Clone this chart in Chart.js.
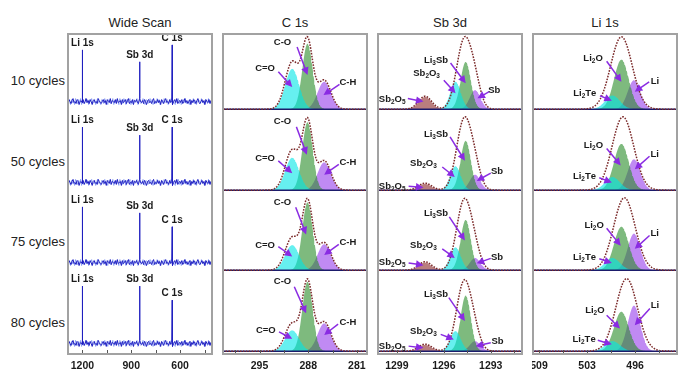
<!DOCTYPE html>
<html>
<head>
<meta charset="utf-8">
<script src="https://cdn.jsdelivr.net/npm/chart.js@4.4.1/dist/chart.umd.min.js"></script>
<style>
  body { margin: 0; background: #fff; width: 686px; height: 386px; position: relative; overflow: hidden;
         font-family: "Liberation Sans", Arial, sans-serif; color: #222; }
  .t { position: absolute; font-size: 13px; line-height: 16px; white-space: nowrap; }
  canvas { position: absolute; }
</style>
</head>
<body>
<script>
const rowLabels = ['10 cycles', '50 cycles', '75 cycles', '80 cycles'];
const panelTitles = ['Wide Scan', 'C 1s', 'Sb 3d', 'Li 1s'];

// wide scan: spikes on a noisy baseline
const widePeakNames = ['Li 1s', 'Sb 3d', 'C 1s'];
const widePeakEnergies = [1200, 848, 649];
const widePeakHeights = [[52, 40, 57], [55, 47, 55], [56, 50, 36], [57, 57, 43]];
const wideNoise = [
  1,-1,2,0,-2,1,3,-1,0,-2,2,1,-3,0,1,-1,2,-2,0,3,
  -1,1,-2,2,0,-3,1,2,-1,0,-2,3,1,-1,-2,0,2,-1,1,-3,
  2,0,-1,3,-2,1,0,-1,2,-2,3,-1,0,1,-3,2,-1,0,2,-2,
  1,3,-2,0,-1,2,-3,1,0,2,-1,-2,3,0,-1,1,-2,2,0,-3,
  1,2,-1,0,-2,1,3,-2,0,-1,2,-1,1,-3,2,0,-2,1,3,-1,
  0,-2,2,-1,1,-3,0,2,-1,3,-2,0,1,-1,2,-2,0,3,-1,1,
  -2,0,2,-3,1,-1,2,0,-2,1,3,-1,-2,0,2,-1,1,-3,2,0,
  -1,2,-2,1,0,3];
// lighter scatter around the same baseline
const wideNoiseLight = [
  -2,3,0,-3,2,-1,1,-3,3,0,-2,2,-1,3,-3,1,0,-2,3,-1,
  2,-3,1,0,3,-2,-1,2,-3,1,3,-1,0,-3,2,1,-2,3,-1,0,
  -3,2,1,-2,0,3,-3,1,-1,2,0,-3,3,-1,1,-2,3,0,-3,2,
  -1,0,3,-3,1,-2,2,0,-1,3,-3,1,2,-2,0,3,-1,-3,2,1,
  -2,0,3,-1,2,-3,0,1,-2,3,-1,2,-3,0,1,-2,3,-1,0,2,
  -3,1,0,3,-2,1,-1,-3,2,0,3,-2,1,-3,0,2,-1,3,-2,0,
  1,-3,2,0,-1,3,-2,1,-3,0,2,1,-2,3,-1,0,-3,2,1,-2,
  3,-1,0,-3,2,-1];
const wideTicks = [1200, 900, 600];
const wideTickLabels = ['1200', '900', '600'];
const wideMinorTicks = [1050, 750, 450];

// C 1s fit components (centre eV, sigma eV, height per row)
const c1sNames = ['C=O', 'C-O', 'C-H'];
const c1sCenters = [290.3, 288.1, 285.7];
const c1sWidths = [1.0, 0.75, 0.95];
const c1sHeights = [[53, 86, 36], [42, 88, 36], [33, 89, 34], [27, 90, 36]];
const c1sEnvHeights = [[62, 88, 38], [52, 88, 38], [43, 89, 36], [36, 89, 38]];
const c1sTicks = [295, 288, 281];
const c1sTickLabels = ['295', '288', '281'];
const c1sMinorTicks = [298.5, 291.5, 284.5];

// Sb 3d
const sbNames = ['Sb₂O₅', 'Sb₂O₃', 'Li₃Sb', 'Sb'];
const sbCenters = [1297.2, 1295.25, 1294.6, 1294.0];
const sbWidths = [0.4, 0.34, 0.33, 0.34];
const sbHeights = [[16, 36, 62, 25], [8, 31, 64, 20], [10, 30, 66, 16], [8, 26, 72, 13]];
const sbEnvCenters = [1297.2, 1294.7, 1294.0];
const sbEnvWidths = [0.42, 0.48, 0.37];
const sbEnvHeights = [[17, 90, 27], [9, 91, 22], [11, 91, 18], [9, 90, 15]];
const sbTicks = [1299, 1296, 1293];
const sbTickLabels = ['1299', '1296', '1293'];
const sbMinorTicks = [1297.5, 1294.5, 1291.5];

// Li 1s
const liNames = ['Li₂Te', 'Li₂O', 'Li'];
const liCenters = [499.3, 498.1, 496.4];
const liWidths = [1.0, 1.0, 0.85];
const liHeights = [[18, 65, 38], [17, 60, 40], [16, 57, 48], [13, 51, 59]];
const liEnvCenters = [498.1, 497.9, 497.7, 497.4];
const liEnvWidth = 1.45;
const liEnvHeights = [95, 95, 95, 94];
const liTicks = [509.25, 502.75, 496.25];
const liTickLabels = ['509', '503', '496'];
const liMinorTicks = [506, 499.5, 493];

// label text, label x/y, arrow start x/y, arrow end x/y (data units)
const c1sNotes = [
  [['C-O', 291.7, 88, 289.6, 81.5, 288.1, 45], ['C=O', 294.2, 53, 292.3, 49, 290.3, 29], ['C-H', 282.3, 35, 283.5, 32.5, 285.8, 18.5]],
  [['C-O', 291.7, 89, 289.7, 82, 288.2, 46], ['C=O', 294.2, 41, 292.3, 38, 290.3, 22], ['C-H', 282.3, 36, 283.6, 33.5, 285.7, 20]],
  [['C-O', 291.7, 89, 289.8, 82.5, 288.3, 47], ['C=O', 294.2, 33, 292.3, 31, 290.3, 18], ['C-H', 282.3, 36, 283.6, 34, 285.7, 20]],
  [['C-O', 291.7, 90, 290.0, 83.5, 288.3, 49], ['C=O', 294.1, 27, 292.2, 25, 290.3, 16], ['C-H', 282.3, 36.8, 283.7, 35, 285.7, 21]]
];
const sbNotes = [
  [['Li₃Sb', 1296.5, 64, 1295.57, 60.6, 1294.6, 34], ['Sb₂O₃', 1297.1, 47, 1296.0, 38, 1295.25, 21],
   ['Sb₂O₅', 1299.3, 13.4, 1298.3, 14, 1297.3, 10], ['Sb', 1292.78, 24.2, 1293.1, 23, 1293.85, 14.3]],
  [['Li₃Sb', 1296.5, 72.5, 1295.6, 69, 1294.65, 38], ['Sb₂O₃', 1297.3, 35, 1296.1, 30, 1295.3, 17],
   ['Sb₂O₅', 1299.3, 5, 1298.25, 5, 1297.3, 3.5], ['Sb', 1292.6, 24, 1293.0, 22, 1293.9, 12]],
  [['Li₃Sb', 1296.5, 74, 1295.65, 70, 1294.65, 39], ['Sb₂O₃', 1297.3, 33, 1296.1, 28, 1295.3, 16],
   ['Sb₂O₅', 1299.3, 10, 1298.25, 9.5, 1297.3, 6.5], ['Sb', 1292.6, 17, 1293.0, 15.5, 1293.9, 9]],
  [['Li₃Sb', 1296.5, 73.8, 1295.68, 69.3, 1294.65, 39], ['Sb₂O₃', 1297.3, 26, 1296.2, 21.7, 1295.36, 15.2],
   ['Sb₂O₅', 1299.3, 6.5, 1298.25, 6.5, 1297.3, 4.3], ['Sb', 1292.57, 12.1, 1293.0, 10.8, 1293.96, 6.5]]
];
const liNotes = [
  [['Li₂O', 501.94, 67, 500.1, 63, 498.1, 36], ['Li₂Te', 503.06, 21, 501.0, 17.7, 499.4, 11.2], ['Li', 493.58, 37, 494.35, 36, 496.3, 23]],
  [['Li₂O', 501.9, 58, 500.1, 54, 498.2, 32], ['Li₂Te', 503.1, 18, 501.1, 16, 499.4, 10], ['Li', 493.6, 46.5, 494.3, 44, 496.3, 27]],
  [['Li₂O', 501.8, 59, 500.1, 55, 498.2, 32], ['Li₂Te', 503.1, 17, 501.1, 15, 499.4, 9.5], ['Li', 493.6, 48, 494.3, 45.5, 496.3, 28]],
  [['Li₂O', 501.7, 53, 500.1, 46.6, 498.3, 29.3], ['Li₂Te', 503.15, 15, 501.3, 14, 499.4, 8.8], ['Li', 493.58, 59.6, 494.25, 55.3, 496.3, 33.6]]
];

const FONT = '"Liberation Sans", Arial, sans-serif';
const colLeft = [67, 222, 377, 532];
const colWidth = 146;
const rowTop = [33, 113, 194, 274];
const rowHeight = [80, 81, 80, 81];
const axisH = 20;

const cyan = 'rgba(0,230,230,0.6)';
const green = 'rgba(40,140,40,0.6)';
const purple = 'rgba(150,60,235,0.6)';
const brown = 'rgba(140,40,40,0.6)';

// html titles
panelTitles.forEach((t, i) => {
  const d = document.createElement('div');
  d.className = 't';
  d.textContent = t;
  d.style.left = (colLeft[i] + colWidth / 2 - 60) + 'px';
  d.style.width = '120px';
  d.style.textAlign = 'center';
  d.style.top = '15px';
  document.body.appendChild(d);
});
rowLabels.forEach((t, i) => {
  const d = document.createElement('div');
  d.className = 't';
  d.textContent = t;
  d.style.left = '0px';
  d.style.width = '65px';
  d.style.textAlign = 'right';
  d.style.top = (73 + i * 80.5) + 'px';
  document.body.appendChild(d);
});

function gauss(x, c, s, h) {
  return h * Math.exp(-((x - c) * (x - c)) / (2 * s * s));
}
function grid(min, max, n) {
  const xs = [];
  for (let i = 0; i < n; i++) xs.push(min + (max - min) * i / (n - 1));
  return xs;
}
function curve(xs, centers, widths, heights) {
  return xs.map(x => ({ x, y: centers.reduce((s, c, k) => s + gauss(x, c, widths[k], heights[k]), 0) }));
}
function component(xs, c, s, h, color, order) {
  return { data: xs.map(x => ({ x, y: gauss(x, c, s, h) })), backgroundColor: color, fill: 'origin',
           borderColor: 'rgba(0,0,0,0)', borderWidth: 0, order };
}
function envelope(points) {
  return { data: points, borderColor: '#7b2a2a', borderWidth: 1.5, borderDash: [1.6, 1.3], fill: false, order: 0 };
}
function baseline(min, max) {
  return { data: [{ x: min, y: 0 }, { x: max, y: 0 }], borderColor: '#1b1b6b', borderWidth: 1.5, fill: false, order: 1 };
}

function drawRich(ctx, text, cx, cy, size) {
  const subs = '₀₁₂₃₄₅₆₇₈₉';
  const parts = [...text].map(ch => {
    const k = subs.indexOf(ch);
    return k >= 0 ? { t: String(k), sub: true } : { t: ch, sub: false };
  });
  const fnt = p => 'bold ' + (p.sub ? size * 0.68 : size) + 'px ' + FONT;
  let w = 0;
  parts.forEach(p => {
    ctx.font = fnt(p);
    p.w = ctx.measureText(p.t).width;
    w += p.w;
  });
  let x = cx - w / 2;
  ctx.textBaseline = 'middle';
  ctx.textAlign = 'left';
  parts.forEach(p => {
    ctx.font = fnt(p);
    ctx.fillText(p.t, x, cy + (p.sub ? size * 0.3 : 0));
    x += p.w;
  });
}

function drawArrow(ctx, x0, y0, x1, y1) {
  const a = Math.atan2(y1 - y0, x1 - x0);
  const len = 7.5, hw = 3.8;
  ctx.strokeStyle = '#8a2be2';
  ctx.fillStyle = '#8a2be2';
  ctx.lineWidth = 1.5;
  ctx.beginPath();
  ctx.moveTo(x0, y0);
  ctx.lineTo(x1 - Math.cos(a) * len * 0.8, y1 - Math.sin(a) * len * 0.8);
  ctx.stroke();
  ctx.beginPath();
  ctx.moveTo(x1, y1);
  ctx.lineTo(x1 - Math.cos(a) * len - Math.sin(a) * hw, y1 - Math.sin(a) * len + Math.cos(a) * hw);
  ctx.lineTo(x1 - Math.cos(a) * len + Math.sin(a) * hw, y1 - Math.sin(a) * len - Math.cos(a) * hw);
  ctx.closePath();
  ctx.fill();
}

const panelPlugin = {
  id: 'panel',
  afterDraw(chart) {
    const o = chart.options.plugins.panel;
    const { ctx, chartArea: a } = chart;
    const xs = chart.scales.x, ys = chart.scales.y;
    ctx.save();
    // annotations
    (o.notes || []).forEach(n => {
      drawArrow(ctx, xs.getPixelForValue(n[3]), ys.getPixelForValue(n[4]), xs.getPixelForValue(n[5]), ys.getPixelForValue(n[6]));
      ctx.fillStyle = '#1a1a1a';
      drawRich(ctx, n[0], xs.getPixelForValue(n[1]), ys.getPixelForValue(n[2]), 9.5);
    });
    (o.spikes || []).forEach(s => {
      ctx.fillStyle = '#1a1a1a';
      ctx.font = 'bold 10px ' + FONT;
      ctx.textAlign = 'center';
      ctx.textBaseline = 'alphabetic';
      ctx.fillText(s.name, xs.getPixelForValue(s.x), ys.getPixelForValue(s.h) - 4);
    });
    // frame
    ctx.strokeStyle = '#a2a2a2';
    ctx.lineWidth = 2;
    ctx.beginPath();
    ctx.moveTo(a.left + 1, a.top); ctx.lineTo(a.left + 1, a.bottom);
    ctx.moveTo(a.right - 1, a.top); ctx.lineTo(a.right - 1, a.bottom);
    if (o.row === 0) { ctx.moveTo(a.left, a.top + 1); ctx.lineTo(a.right, a.top + 1); }
    if (o.row === 3) { ctx.moveTo(a.left, a.bottom - 1); ctx.lineTo(a.right, a.bottom - 1); }
    ctx.stroke();
    if (o.row === 3) {
      ctx.strokeStyle = '#555';
      ctx.lineWidth = 1;
      ctx.beginPath();
      xs.ticks.forEach(t => {
        const px = Math.round(xs.getPixelForValue(t.value)) + 0.5;
        ctx.moveTo(px, a.bottom - 2);
        ctx.lineTo(px, a.bottom - 5);
      });
      ctx.stroke();
    }
    ctx.restore();
  }
};

function makeChart(col, row, datasets, xr, yr, majors, labels, minors, extra) {
  const bottom = row === 3;
  const c = document.createElement('canvas');
  c.width = colWidth;
  c.height = rowHeight[row] + (bottom ? axisH : 0);
  c.style.left = colLeft[col] + 'px';
  c.style.top = rowTop[row] + 'px';
  document.body.appendChild(c);
  new Chart(c, {
    type: 'line',
    data: { datasets },
    options: {
      responsive: false, maintainAspectRatio: false, animation: false, devicePixelRatio: 1, events: [],
      layout: { padding: 0 },
      elements: { point: { radius: 0 }, line: { tension: 0 } },
      plugins: { legend: { display: false }, tooltip: { enabled: false },
                 panel: Object.assign({ row }, extra) },
      scales: {
        x: {
          type: 'linear', reverse: true, min: xr[0], max: xr[1], display: bottom,
          grid: { display: false, drawTicks: false }, border: { display: false },
          afterBuildTicks: s => { s.ticks = majors.concat(minors).map(v => ({ value: v })); },
          afterFit: s => {
            s.height = bottom ? axisH : 0;
            s.paddingLeft = 0; s.paddingRight = 0;
          },
          ticks: {
            autoSkip: false, maxRotation: 0, minRotation: 0, padding: 5, color: '#1a1a1a',
            font: { family: FONT, size: 10.5, weight: 'bold' },
            callback: v => { const k = majors.indexOf(v); return k >= 0 ? labels[k] : ''; }
          }
        },
        y: { type: 'linear', min: yr[0], max: yr[1], display: false }
      }
    },
    plugins: [panelPlugin]
  });
}

for (let r = 0; r < 4; r++) {
  // wide scan
  const wr = [398, 1295];
  const n = wideNoise.length;
  const at = i => wr[1] - (wr[1] - wr[0]) * i / (n - 1);
  const pts = wideNoise.map((v, i) => ({ x: at(i), y: v }));
  const light = wideNoiseLight.map((v, i) => ({ x: at(i + 0.5), y: v }));
  const near = e => wideNoise[Math.round((wr[1] - e) / (wr[1] - wr[0]) * (n - 1))];
  widePeakEnergies.forEach((e, k) => {
    pts.push({ x: e + 0.9, y: near(e) }, { x: e, y: widePeakHeights[r][k] }, { x: e - 0.9, y: near(e) });
  });
  pts.sort((p, q) => q.x - p.x);
  makeChart(0, r, [
    { data: pts, borderColor: '#2020c0', borderWidth: 1, fill: false, order: 0 },
    { data: light, borderColor: 'rgba(80,110,240,0.55)', borderWidth: 1, fill: false, order: 1 }
  ], wr, [-11.5, 69], wideTicks, wideTickLabels, wideMinorTicks,
    { spikes: widePeakEnergies.map((e, k) => ({ name: widePeakNames[k], x: e, h: widePeakHeights[r][k] })) });

  // C 1s
  const cr = [279.4, 300.4];
  const cx = grid(cr[0], cr[1], 240);
  makeChart(1, r, [
    envelope(curve(cx, c1sCenters, c1sWidths, c1sEnvHeights[r])),
    baseline(cr[0], cr[1]),
    component(cx, c1sCenters[0], c1sWidths[0], c1sHeights[r][0], cyan, 3),
    component(cx, c1sCenters[1], c1sWidths[1], c1sHeights[r][1], green, 4),
    component(cx, c1sCenters[2], c1sWidths[2], c1sHeights[r][2], purple, 5)
  ], cr, [-5, 100], c1sTicks, c1sTickLabels, c1sMinorTicks, { notes: c1sNotes[r] });

  // Sb 3d
  const sr = [1290.94, 1300.27];
  const sx = grid(sr[0], sr[1], 300);
  makeChart(2, r, [
    envelope(curve(sx, sbEnvCenters, sbEnvWidths, sbEnvHeights[r])),
    baseline(sr[0], sr[1]),
    component(sx, sbCenters[0], sbWidths[0], sbHeights[r][0], brown, 3),
    component(sx, sbCenters[1], sbWidths[1], sbHeights[r][1], cyan, 3),
    component(sx, sbCenters[2], sbWidths[2], sbHeights[r][2], green, 4),
    component(sx, sbCenters[3], sbWidths[3], sbHeights[r][3], purple, 5)
  ], sr, [-5, 100], sbTicks, sbTickLabels, sbMinorTicks, { notes: sbNotes[r] });

  // Li 1s
  const lr = [490.45, 510.2];
  const lx = grid(lr[0], lr[1], 240);
  makeChart(3, r, [
    envelope(curve(lx, [liEnvCenters[r]], [liEnvWidth], [liEnvHeights[r]])),
    baseline(lr[0], lr[1]),
    component(lx, liCenters[0], liWidths[0], liHeights[r][0], cyan, 3),
    component(lx, liCenters[1], liWidths[1], liHeights[r][1], green, 4),
    component(lx, liCenters[2], liWidths[2], liHeights[r][2], purple, 5)
  ], lr, [-5, 100], liTicks, liTickLabels, liMinorTicks, { notes: liNotes[r] });
}
</script>
</body>
</html>
